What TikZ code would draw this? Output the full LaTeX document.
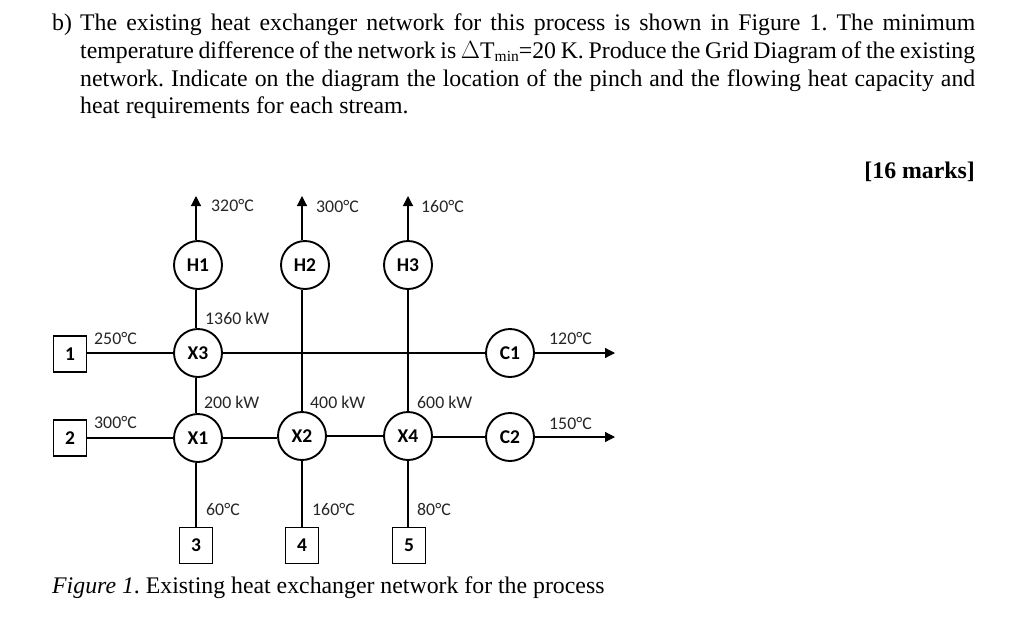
\documentclass[tikz,border=0pt]{standalone}
\usepackage{fontspec}
\setmainfont{Liberation Serif}
\newfontfamily\diagfont{Carlito}
\usetikzlibrary{arrows.meta}
\frenchspacing
\tikzset{
 unit/.style={circle,draw,line width=1.9pt,minimum size=48pt,inner sep=0pt,font=\diagfont\fontsize{19.5}{21}\selectfont\bfseries,fill=white},
 stream/.style={rectangle,draw,line width=1.3pt,minimum width=33pt,minimum height=36pt,inner sep=0pt,font=\diagfont\fontsize{19.5}{21}\selectfont\bfseries,fill=white},
 conn/.style={line width=1.2pt},
 flow/.style={line width=1.2pt,-{Triangle[length=10pt,width=10pt]}},
 lab/.style={font=\diagfont\fontsize{17.8}{20}\selectfont,inner sep=0pt,anchor=west,text=black!85},
 body/.style={inner sep=0pt,anchor=base west,font=\fontsize{23.8}{27}\selectfont},
}
\newcommand{\lowsub}[1]{\raisebox{-2.5pt}{\fontsize{15.5}{16}\selectfont #1}}
\begin{document}
\begin{tikzpicture}[x=1pt,y=-1pt]
\useasboundingbox (0,0) rectangle (1024,624);
\fill[white] (0,0) rectangle (1024,624);
% question text
\node[body] (qb) at (52,30.5) {b)};
\node[body] (q1) at (80,30.5) {\makebox[895pt][s]{The existing heat exchanger network for this process is shown in Figure 1. The minimum}};
\node[body] (q2) at (80,58.5) {\makebox[895pt][s]{temperature difference of the network is $\Delta$T\lowsub{min}=20 K. Produce the Grid Diagram of the existing}};
\node[body] (q3) at (80,86.5) {\makebox[895pt][s]{network. Indicate on the diagram the location of the pinch and the flowing heat capacity and}};
\node[body] (q4) at (80,113.5) {heat requirements for each stream.};
\node[body,anchor=base east] (marks) at (975,178.5) {\textbf{[16 marks]}};
\node[body] (cap) at (52,593.5) {\textit{Figure 1}. Existing heat exchanger network for the process};
% units
\node[unit] (H1) at (198,265) {H1};
\node[unit] (H2) at (305,265) {H2};
\node[unit] (H3) at (408,265) {H3};
\node[unit] (X3) at (198,353) {X3};
\node[unit] (X1) at (198,438) {X1};
\node[unit] (X2) at (302,436) {X2};
\node[unit] (X4) at (408,436) {X4};
\node[unit] (C1) at (510,353) {C1};
\node[unit] (C2) at (510,437) {C2};
\node[stream] (s1) at (70,354) {1};
\node[stream] (s2) at (70,438) {2};
\node[stream] (s3) at (196,545.5) {3};
\node[stream] (s4) at (302,545.5) {4};
\node[stream] (s5) at (409,545.5) {5};
\coordinate (t1) at (196,196);
\coordinate (t2) at (302,196);
\coordinate (t3) at (408,196);
\coordinate (r1) at (615,353);
\coordinate (r2) at (615,437);
% connectors
\draw[flow] (H1.north -| t1) -- (t1);
\draw[flow] (H2.north -| t2) -- (t2);
\draw[flow] (H3.north -| t3) -- (t3);
\draw[conn] (t1 |- H1.south) -- (t1 |- X3.north);
\draw[conn] (t1 |- X3.south) -- (t1 |- X1.north);
\draw[conn] (t1 |- X1.south) -- (s3.north -| t1);
\draw[conn] (t2 |- H2.south) -- (X2.north);
\draw[conn] (X2.south) -- (s4.north);
\draw[conn] (H3.south) -- (X4.north);
\draw[conn] (X4.south) -- (s5.north -| X4);
\draw[conn] (s1.east |- X3) -- (X3.west);
\draw[conn] (X3.east) -- (C1.west);
\draw[flow] (C1.east) -- (r1);
\draw[conn] (s2.east |- X1) -- (X1.west);
\draw[conn] (X1.east) -- (X2.west |- X1.east);
\draw[conn] (X2.east) -- (X4.west);
\draw[conn] (X4.east |- C2) -- (C2.west);
\draw[flow] (C2.east) -- (r2);
% labels
\node[lab] (l1) at (211,205.5) {320°C};
\node[lab] (l2) at (316,206.5) {300°C};
\node[lab] (l3) at (421,206.5) {160°C};
\node[lab] (l4) at (94,338) {250°C};
\node[lab] (l5) at (94,422.5) {300°C};
\node[lab] (l6) at (549,338) {120°C};
\node[lab] (l7) at (549,423.5) {150°C};
\node[lab] (l8) at (205,318) {1360 kW};
\node[lab] (l9) at (204,402) {200 kW};
\node[lab] (l10) at (310,402) {400 kW};
\node[lab] (l11) at (417,402) {600 kW};
\node[lab] (l12) at (206,509) {60°C};
\node[lab] (l13) at (312,509) {160°C};
\node[lab] (l14) at (417,509) {80°C};
\end{tikzpicture}
\end{document}
